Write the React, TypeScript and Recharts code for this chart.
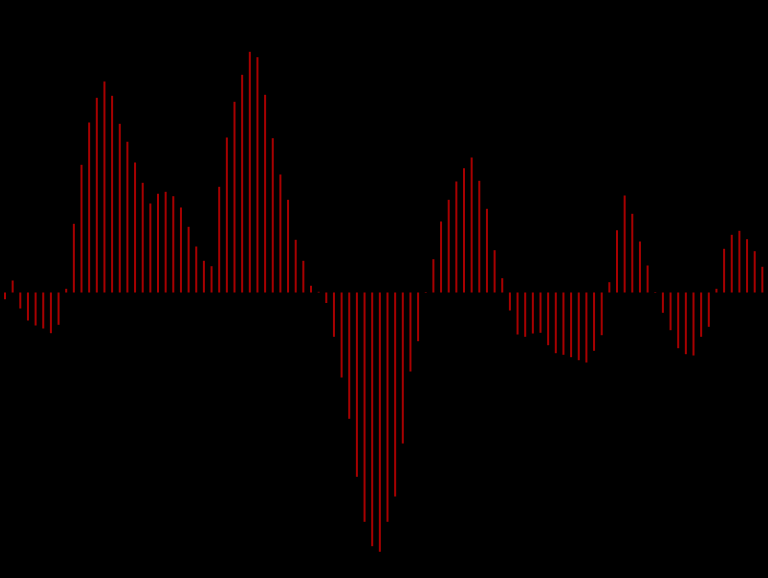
import React from "react"
import { BarChart, Bar, XAxis, YAxis, ReferenceLine } from "recharts"

// signal amplitude per sample
const values = [
  -6.7, 12, -16, -28, -33, -36, -40.7, -32.3, 3.7, 68.7,
  127.7, 170, 194.7, 211, 196.7, 168.7, 150.7, 130, 109.7, 89,
  98.7, 100.7, 96.3, 85, 65.7, 46, 31.7, 26.3, 105.7, 155,
  190.7, 217.7, 240.7, 235.3, 197.7, 154.3, 118, 92.7, 52.7, 31.7,
  6.7, 0.7, -10.5, -44.3, -85, -126.3, -184.3, -229.3, -253.7, -259.3,
  -229.3, -204, -151, -79, -48.7, -0.5, 33.3, 71, 92.7, 111,
  124.3, 135, 111.7, 83.7, 42.3, 14.3, -18, -42, -44.3, -41,
  -40.3, -52.7, -60.7, -62.3, -64.7, -67.7, -70, -58.3, -42.7, 10.3,
  62.3, 97, 78.7, 51, 27, 0.5, -20.3, -37.7, -55.7, -61.7,
  -63, -44.3, -34.3, 3.7, 43.7, 57.7, 61.7, 53.3, 41.3, 25.7,
]

const samples = values.map((_, i) => i)

const yMin = -285.5
const yMax = 292.5

const data = samples.map((s, i) => ({ sample: s, value: values[i] }))

export default function App() {
  return (
    <div style={{ width: 768, height: 578, background: "#000" }}>
      <style>{"body{margin:0;background:#000}"}</style>
      <BarChart
        width={768}
        height={578}
        data={data}
        margin={{ top: 0, right: 2, bottom: 0, left: 1 }}
        barCategoryGap={0}
      >
        <XAxis dataKey="sample" hide />
        <YAxis hide domain={[yMin, yMax]} allowDataOverflow />
        <ReferenceLine y={0} stroke="none" />
        <Bar dataKey="value" fill="#a80000" barSize={2} isAnimationActive={false} />
      </BarChart>
    </div>
  )
}
